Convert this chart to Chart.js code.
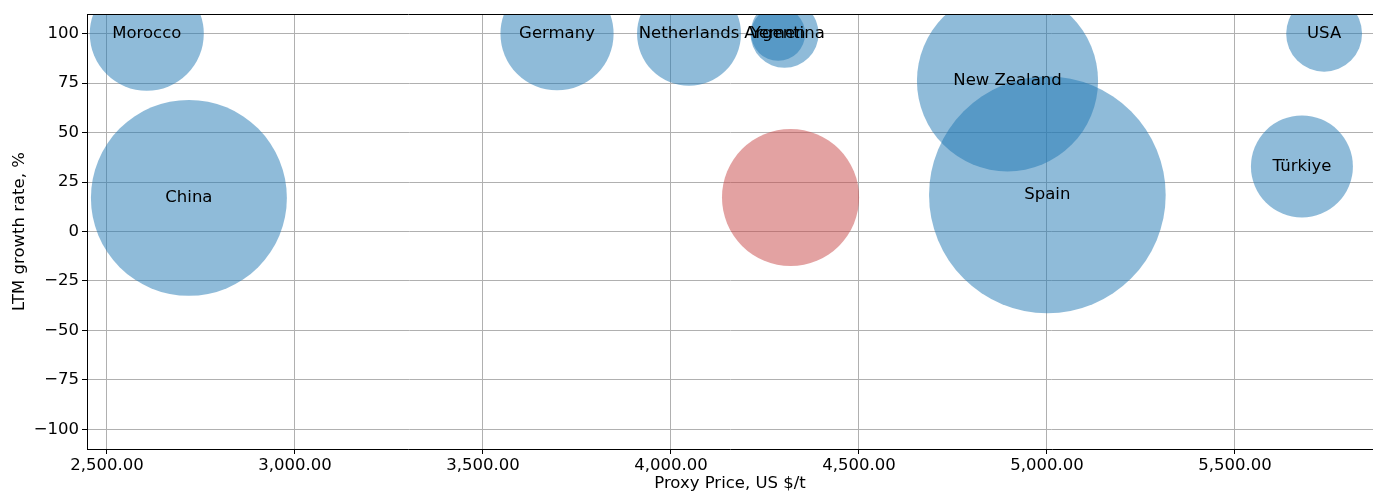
<!DOCTYPE html>
<html>
<head>
<meta charset="utf-8">
<script src="https://cdn.jsdelivr.net/npm/chart.js@4/dist/chart.umd.min.js"></script>
<style>
  html, body { margin: 0; padding: 0; background: #fff; }
  #wrap { width: 1373px; height: 492px; position: relative; }
</style>
</head>
<body>
<div id="wrap"><canvas id="bubble-chart"></canvas></div>
<script>
// Data
const countries = ['Morocco', 'China', 'Germany', 'Netherlands', 'Argentina', 'Yemen', 'New Zealand', 'Spain', 'Türkiye', 'USA'];
const prices    = [2606, 2718, 3697, 4048, 4302, 4285, 4895, 5001, 5678, 5737];
const growth    = [100, 17.0, 100, 100, 100, 100, 76.2, 18.5, 32.9, 100];
const volumes   = [32.5, 96, 32, 27, 11.6, 7.3, 82, 140, 26, 14.4];

// highlighted (red) bubble, no label in the reference
const focusPrice  = [4318];
const focusGrowth = [17.2];
const focusVolume = [47];

const xTicks = [2500, 3000, 3500, 4000, 4500, 5000, 5500];
const yTicks = [-100, -75, -50, -25, 0, 25, 50, 75, 100];

const FONT = { family: 'DejaVu Sans', size: 16.5 };

const toRadius = v => 10 * Math.sqrt(v);

const points = countries.map((c, i) => ({ x: prices[i], y: growth[i], r: toRadius(volumes[i]) }));
const focusPoints = focusPrice.map((p, i) => ({ x: p, y: focusGrowth[i], r: toRadius(focusVolume[i]) }));

// country names in the middle of each bubble + top spine
const bubbleLabels = {
  id: 'bubbleLabels',
  afterDatasetsDraw(chart) {
    const { ctx, scales: { x, y }, chartArea } = chart;
    ctx.save();
    ctx.beginPath();
    ctx.rect(chartArea.left, chartArea.top, chartArea.right - chartArea.left, chartArea.bottom - chartArea.top);
    ctx.clip();
    ctx.font = FONT.size + 'px "DejaVu Sans"';
    ctx.fillStyle = '#000';
    ctx.textAlign = 'center';
    ctx.textBaseline = 'middle';
    countries.forEach((name, i) => {
      ctx.fillText(name, x.getPixelForValue(prices[i]), y.getPixelForValue(growth[i]));
    });
    ctx.restore();

    ctx.save();
    ctx.strokeStyle = '#000';
    ctx.lineWidth = 1;
    ctx.beginPath();
    ctx.moveTo(chartArea.left, chartArea.top + 0.5);
    ctx.lineTo(chartArea.right, chartArea.top + 0.5);
    ctx.stroke();
    ctx.restore();
  }
};

const ctx = document.getElementById('bubble-chart').getContext('2d');
new Chart(ctx, {
  type: 'bubble',
  data: {
    datasets: [
      {
        label: 'Countries',
        data: points,
        backgroundColor: 'rgba(31, 119, 180, 0.5)',
        borderWidth: 0,
        hoverBorderWidth: 0,
        clip: 0
      },
      {
        label: 'Focus',
        data: focusPoints,
        backgroundColor: 'rgba(200, 70, 70, 0.5)',
        borderWidth: 0,
        hoverBorderWidth: 0,
        clip: 0
      }
    ]
  },
  options: {
    responsive: true,
    maintainAspectRatio: false,
    animation: false,
    layout: { autoPadding: false, padding: { top: 14, right: 0, left: 0, bottom: 0 } },
    plugins: {
      legend: { display: false },
      tooltip: { enabled: false }
    },
    scales: {
      x: {
        type: 'linear',
        min: 2447,
        max: 5867,
        afterBuildTicks: scale => { scale.ticks = xTicks.map(v => ({ value: v })); },
        afterFit: scale => { scale.height = 43; },
        border: { color: '#000', width: 1 },
        grid: { color: '#b0b0b0', lineWidth: 1, tickColor: '#000', tickLength: 5 },
        ticks: {
          autoSkip: false,
          maxRotation: 0,
          padding: 2,
          color: '#000',
          font: FONT,
          callback: value => value.toLocaleString('en-US', { minimumFractionDigits: 2, maximumFractionDigits: 2 })
        },
        title: {
          display: true,
          text: 'Proxy Price, US $/t',
          color: '#000',
          font: FONT,
          padding: { top: 0, bottom: -2 }
        }
      },
      y: {
        type: 'linear',
        min: -110,
        max: 110,
        afterBuildTicks: scale => { scale.ticks = yTicks.map(v => ({ value: v })); },
        afterFit: scale => { scale.width = 87; },
        border: { color: '#000', width: 1 },
        grid: { color: '#b0b0b0', lineWidth: 1, tickColor: '#000', tickLength: 5 },
        ticks: {
          padding: 3,
          color: '#000',
          font: FONT,
          callback: value => String(value).replace('-', '\u2212')
        },
        title: {
          display: true,
          text: 'LTM growth rate, %',
          color: '#000',
          font: FONT,
          padding: { top: 10, bottom: 0 }
        }
      }
    }
  },
  plugins: [bubbleLabels]
});
</script>
</body>
</html>
